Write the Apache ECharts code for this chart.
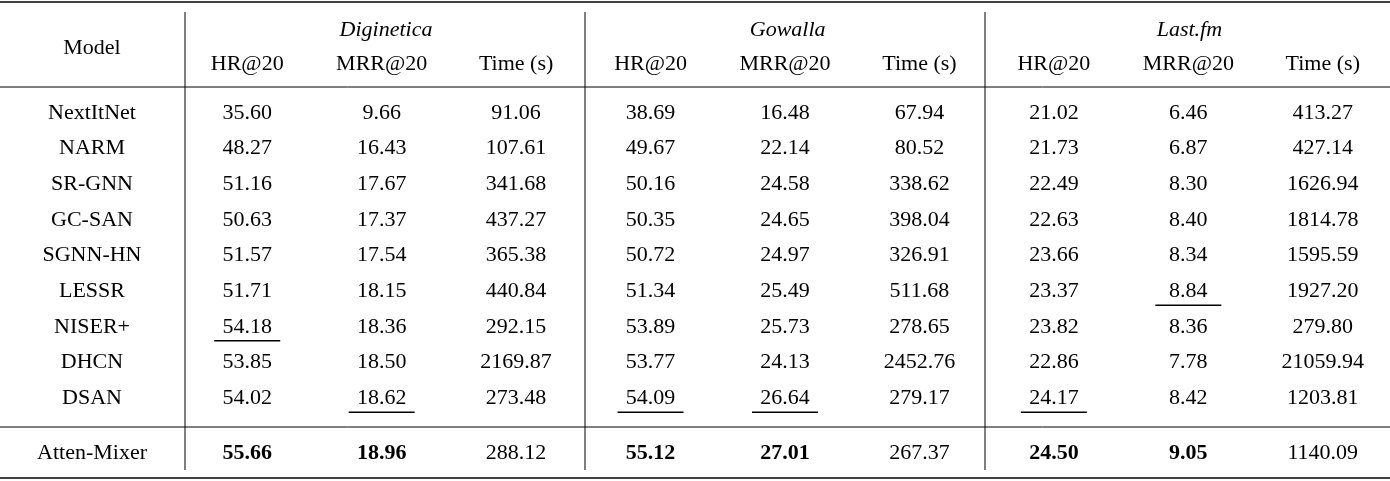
<!DOCTYPE html><html><head><meta charset="utf-8">
<script src="https://cdn.jsdelivr.net/npm/echarts@6/dist/echarts.min.js"></script>
<style>html,body{margin:0;background:#fff}#c{width:1390px;height:481px}</style></head><body><div id="c"></div>
<script>
const models=['NextItNet','NARM','SR-GNN','GC-SAN','SGNN-HN','LESSR','NISER+','DHCN','DSAN'];
const bestModel=['Atten-Mixer'];
const datasets=['Diginetica','Gowalla','Last.fm'];
const metrics=['HR@20','MRR@20','Time (s)','HR@20','MRR@20','Time (s)','HR@20','MRR@20','Time (s)'];
const rows=[
['35.60','9.66','91.06','38.69','16.48','67.94','21.02','6.46','413.27'],
['48.27','16.43','107.61','49.67','22.14','80.52','21.73','6.87','427.14'],
['51.16','17.67','341.68','50.16','24.58','338.62','22.49','8.30','1626.94'],
['50.63','17.37','437.27','50.35','24.65','398.04','22.63','8.40','1814.78'],
['51.57','17.54','365.38','50.72','24.97','326.91','23.66','8.34','1595.59'],
['51.71','18.15','440.84','51.34','25.49','511.68','23.37','8.84','1927.20'],
['54.18','18.36','292.15','53.89','25.73','278.65','23.82','8.36','279.80'],
['53.85','18.50','2169.87','53.77','24.13','2452.76','22.86','7.78','21059.94'],
['54.02','18.62','273.48','54.09','26.64','279.17','24.17','8.42','1203.81']];
const bestRow=['55.66','18.96','288.12','55.12','27.01','267.37','24.50','9.05','1140.09'];
const underlined=[[6,0],[8,1],[8,3],[8,4],[5,7],[8,6]];
const boldCols=[0,1,3,4,6,7];
const F='"Liberation Serif", serif';
const ch=echarts.init(document.getElementById('c'));
const pts=[],ul=[];
rows.forEach((r,i)=>r.forEach((v,j)=>pts.push([j,i,v])));
underlined.forEach(([i,j])=>ul.push([j,i]));
const pts2=bestRow.map((v,j)=>({value:[j,0,v],label:{fontWeight:boldCols.includes(j)?'bold':'normal'}}));
const lbl={show:true,position:'inside',formatter:p=>p.value[2],color:'#000',opacity:1,fontSize:22,fontFamily:F};
const W=1390;
const line=(y,w)=>({type:'line',shape:{x1:0,y1:y,x2:W,y2:y},style:{stroke:'#000',lineWidth:w}});
const vline=x=>({type:'line',shape:{x1:x,y1:12,x2:x,y2:470},style:{stroke:'#000',lineWidth:1}});
const it={color:'#000',opacity:1};
ch.setOption({
 animation:false,
 grid:[{left:180,right:0,top:95,height:321},{left:180,right:0,top:435,height:36}],
 xAxis:[{type:'category',gridIndex:0,data:metrics,position:'top',axisLine:{show:false},axisTick:{show:false},
   axisLabel:{margin:20,fontSize:22,fontFamily:F,color:'#000'}},
  {type:'category',gridIndex:1,data:metrics,show:false}],
 yAxis:[{type:'category',gridIndex:0,data:models,inverse:true,axisLine:{show:false},axisTick:{show:false},
   axisLabel:{align:'center',margin:88,fontSize:22,fontFamily:F,color:'#000'}},
  {type:'category',gridIndex:1,data:bestModel,axisLine:{show:false},axisTick:{show:false},
   axisLabel:{align:'center',margin:88,fontSize:22,fontFamily:F,color:'#000'}}],
 series:[
  {type:'scatter',xAxisIndex:0,yAxisIndex:0,data:pts,symbolSize:0,itemStyle:it,label:lbl},
  {type:'scatter',xAxisIndex:1,yAxisIndex:1,data:pts2,symbolSize:0,itemStyle:it,label:lbl},
  {type:'scatter',xAxisIndex:0,yAxisIndex:0,data:ul,symbol:'rect',symbolSize:[66,1.5],symbolOffset:[0,14],itemStyle:it}
 ],
 graphic:[line(2,1.5),line(87,1),line(427,1),line(478,1.5),vline(185),vline(585),vline(985),
  ...datasets.map((d,k)=>({type:'text',x:386+k*401.7,y:30,style:{text:d,fontSize:22,fontStyle:'italic',fontFamily:F,fill:'#000',align:'center',verticalAlign:'middle'}})),
  {type:'text',x:92,y:48,style:{text:'Model',fontSize:22,fontFamily:F,fill:'#000',align:'center',verticalAlign:'middle'}}]
});
</script></body></html>
